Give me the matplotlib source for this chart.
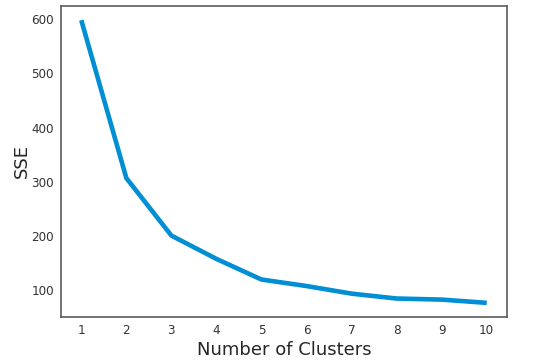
import matplotlib
matplotlib.use("Agg")
import matplotlib.pyplot as plt

# elbow curve values
n_clusters = [1, 2, 3, 4, 5, 6, 7, 8, 9, 10]
sse = [598, 307, 201, 158, 120, 108, 94, 85, 83, 77]

fig = plt.figure(figsize=(7.5, 364 / 72), dpi=72)
ax = fig.add_axes([61 / 540, 47 / 364, 446 / 540, 311 / 364])

ax.plot(n_clusters, sse, color="#008fd5", linewidth=4.6, solid_capstyle="butt")

ax.set_xticks(n_clusters)
ax.set_yticks([100, 200, 300, 400, 500, 600])
ax.tick_params(length=0, labelsize=12, labelcolor="#333333", pad=7)
for s in ax.spines.values():
    s.set_color("#555555")
    s.set_linewidth(1.6)

ax.set_xlabel("Number of Clusters", fontsize=18, color="#262626", labelpad=4)
ax.set_ylabel("SSE", fontsize=18, color="#262626", labelpad=1)

fig.savefig("out.png", dpi=72)
